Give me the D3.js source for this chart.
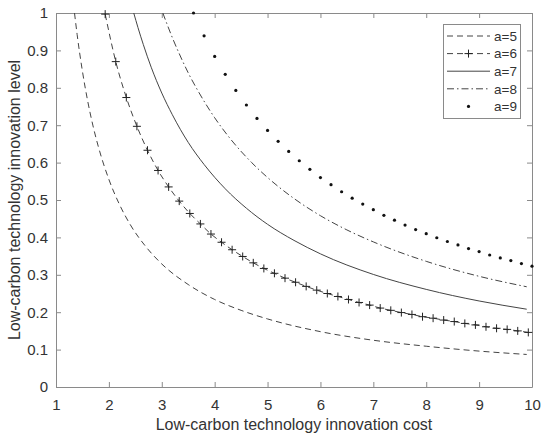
<!DOCTYPE html>
<html>
<head>
<meta charset="utf-8">
<script src="https://cdn.jsdelivr.net/npm/d3@7"></script>
<style>
  body { margin: 0; background: #fff; }
  text { font-family: "Liberation Sans", Arial, sans-serif; }
</style>
</head>
<body>
<div id="app"></div>
<script>
// values
const costA5 = [1.35, 1.4, 1.5, 1.6, 1.7, 1.8, 2.0, 2.2, 2.4, 2.7, 3.0, 3.5, 4.0, 4.5, 5.0, 6.0, 7.0, 8.0, 9.0, 9.9];
const levelA5 = [1.0, 0.942, 0.844, 0.764, 0.698, 0.643, 0.555, 0.488, 0.435, 0.375, 0.329, 0.274, 0.234, 0.205, 0.182, 0.148, 0.125, 0.109, 0.096, 0.087];

const costA6 = [1.93, 2.13, 2.33, 2.53, 2.73, 2.93, 3.13, 3.33, 3.53, 3.73, 3.93, 4.13, 4.33, 4.53, 4.73, 4.93, 5.13, 5.33, 5.53, 5.73,
  5.93, 6.13, 6.33, 6.53, 6.73, 6.93, 7.13, 7.33, 7.53, 7.73, 7.93, 8.13, 8.33, 8.53, 8.73, 8.93, 9.13, 9.33, 9.53, 9.73, 9.93];
const levelA6 = [0.997, 0.870, 0.774, 0.697, 0.633, 0.579, 0.535, 0.497, 0.464, 0.436, 0.409, 0.387, 0.367, 0.349, 0.332, 0.317, 0.304, 0.291, 0.280, 0.269,
  0.259, 0.250, 0.242, 0.234, 0.226, 0.219, 0.211, 0.205, 0.199, 0.194, 0.188, 0.184, 0.179, 0.175, 0.170, 0.166, 0.161, 0.157, 0.154, 0.150, 0.146];

const costA7 = [2.47, 2.55, 2.65, 2.8, 3.0, 3.2, 3.5, 3.8, 4.2, 4.6, 5.0, 5.5, 6.0, 7.0, 8.0, 9.0, 9.9];
const levelA7 = [1.0, 0.961, 0.916, 0.855, 0.786, 0.728, 0.654, 0.595, 0.530, 0.478, 0.435, 0.392, 0.356, 0.301, 0.261, 0.230, 0.208];

const costA8 = [3.02, 3.1, 3.2, 3.35, 3.5, 3.7, 4.0, 4.3, 4.7, 5.1, 5.5, 6.0, 6.5, 7.0, 8.0, 9.0, 9.9];
const levelA8 = [1.0, 0.970, 0.934, 0.885, 0.840, 0.788, 0.720, 0.663, 0.600, 0.548, 0.504, 0.458, 0.420, 0.388, 0.336, 0.296, 0.268];

const costA9 = [3.6, 3.8, 4.0, 4.2, 4.4, 4.6, 4.8, 5.0, 5.2, 5.4, 5.6, 5.8, 6.0, 6.2, 6.4, 6.6, 6.8,
  7.0, 7.2, 7.4, 7.6, 7.8, 8.0, 8.2, 8.4, 8.6, 8.8, 9.0, 9.2, 9.4, 9.6, 9.8, 10.0];
const levelA9 = [1.0, 0.939, 0.884, 0.836, 0.793, 0.754, 0.718, 0.686, 0.657, 0.630, 0.605, 0.582, 0.560, 0.541, 0.522, 0.505, 0.489,
  0.474, 0.459, 0.446, 0.433, 0.421, 0.410, 0.399, 0.389, 0.380, 0.370, 0.362, 0.353, 0.345, 0.338, 0.330, 0.323];

const legendLabels = ['a=5', 'a=6', 'a=7', 'a=8', 'a=9'];
const xTicks = [1, 2, 3, 4, 5, 6, 7, 8, 9, 10];
const yTicks = [0, 0.1, 0.2, 0.3, 0.4, 0.5, 0.6, 0.7, 0.8, 0.9, 1];

const w = 550;
const h = 441;
const margin = { top: 13, right: 18, bottom: 54, left: 56 };

const svg = d3.select('#app')
  .append('svg')
  .attr('width', w)
  .attr('height', h);

const x = d3.scaleLinear().domain([1, 10]).range([margin.left, w - margin.right]);
const y = d3.scaleLinear().domain([0, 1]).range([h - margin.bottom, margin.top]);

const zip = (xs, ys) => xs.map((v, i) => [v, ys[i]]);

const series = [
  { label: legendLabels[0], pts: zip(costA5, levelA5), dash: '6,4', line: true, marker: null },
  { label: legendLabels[1], pts: zip(costA6, levelA6), dash: '6,4', line: true, marker: 'plus' },
  { label: legendLabels[2], pts: zip(costA7, levelA7), dash: null, line: true, marker: null },
  { label: legendLabels[3], pts: zip(costA8, levelA8), dash: '7,3,1.5,3', line: true, marker: null },
  { label: legendLabels[4], pts: zip(costA9, levelA9), dash: null, line: false, marker: 'dot' }
];

svg.append('clipPath').attr('id', 'plot-clip')
  .append('rect')
  .attr('x', x(1)).attr('y', y(1))
  .attr('width', x(10) - x(1)).attr('height', y(0) - y(1));

//////////AXES//////////

const axisColor = '#8a8a8a';
const labelColor = '#333';

function styleAxis(g) {
  g.select('.domain').attr('stroke', axisColor);
  g.selectAll('.tick line').attr('stroke', axisColor);
  g.selectAll('.tick text')
    .attr('fill', labelColor)
    .style('font-size', '15px')
    .style('font-family', '"Liberation Sans", Arial, sans-serif');
}

svg.append('g')
  .attr('transform', `translate(0,${y(0)})`)
  .call(d3.axisBottom(x).tickValues(xTicks).tickSize(-5).tickSizeOuter(0).tickPadding(12).tickFormat(d3.format('d')))
  .call(styleAxis);

svg.append('g')
  .attr('transform', `translate(0,${y(1)})`)
  .call(d3.axisTop(x).tickValues(xTicks).tickSize(-5).tickSizeOuter(0).tickFormat(''))
  .call(styleAxis);

svg.append('g')
  .attr('transform', `translate(${x(1)},0)`)
  .call(d3.axisLeft(y).tickValues(yTicks).tickSize(-5).tickSizeOuter(0).tickPadding(8).tickFormat(d => d3.format('')(+d.toFixed(1))))
  .call(styleAxis);

svg.append('g')
  .attr('transform', `translate(${x(10)},0)`)
  .call(d3.axisRight(y).tickValues(yTicks).tickSize(-5).tickSizeOuter(0).tickFormat(''))
  .call(styleAxis);

svg.append('text')
  .attr('x', (x(1) + x(10)) / 2)
  .attr('y', 430)
  .attr('text-anchor', 'middle')
  .attr('fill', labelColor)
  .style('font-size', '16px')
  .text('Low-carbon technology innovation cost');

svg.append('text')
  .attr('transform', `translate(20,${(y(0) + y(1)) / 2}) rotate(-90)`)
  .attr('text-anchor', 'middle')
  .attr('fill', labelColor)
  .style('font-size', '16px')
  .text('Low-carbon technology innovation level');

//////////CURVES//////////

const lineGen = d3.line()
  .x(d => x(d[0]))
  .y(d => y(d[1]))
  .curve(d3.curveMonotoneX);

const lineColor = '#444';

series.filter(s => s.line).forEach(s => {
  svg.append('path')
    .datum(s.pts)
    .attr('clip-path', 'url(#plot-clip)')
    .attr('fill', 'none')
    .attr('stroke', lineColor)
    .attr('stroke-width', 1)
    .attr('stroke-dasharray', s.dash)
    .attr('d', lineGen);
});

const plusPath = 'M-4,0H4M0,-4V4';

function drawMarker(g, type, cx, cy) {
  if (type === 'plus') {
    g.append('path')
      .attr('transform', `translate(${cx},${cy})`)
      .attr('d', plusPath)
      .attr('stroke', '#222')
      .attr('stroke-width', 1)
      .attr('fill', 'none');
  } else if (type === 'dot') {
    g.append('circle')
      .attr('cx', cx).attr('cy', cy)
      .attr('r', 1.6)
      .attr('fill', '#111');
  }
}

series.filter(s => s.marker).forEach(s => {
  const g = svg.append('g');
  s.pts.forEach(p => drawMarker(g, s.marker, x(p[0]), y(p[1])));
});

//////////LEGEND//////////

const legend = svg.append('g').attr('id', 'legend');

legend.append('rect')
  .attr('x', 443.5).attr('y', 24.5)
  .attr('width', 77).attr('height', 94)
  .attr('fill', '#fff')
  .attr('stroke', axisColor);

series.forEach((s, i) => {
  const ry = 36 + i * 17.6;
  const row = legend.append('g');
  if (s.line) {
    row.append('line')
      .attr('x1', 447).attr('x2', 490)
      .attr('y1', ry).attr('y2', ry)
      .attr('stroke', lineColor)
      .attr('stroke-dasharray', s.dash);
  }
  if (s.marker) drawMarker(row, s.marker, 468.5, ry);
  row.append('text')
    .attr('x', 494)
    .attr('y', ry)
    .attr('dy', '0.35em')
    .attr('fill', labelColor)
    .style('font-size', '13.5px')
    .text(s.label);
});
</script>
</body>
</html>
